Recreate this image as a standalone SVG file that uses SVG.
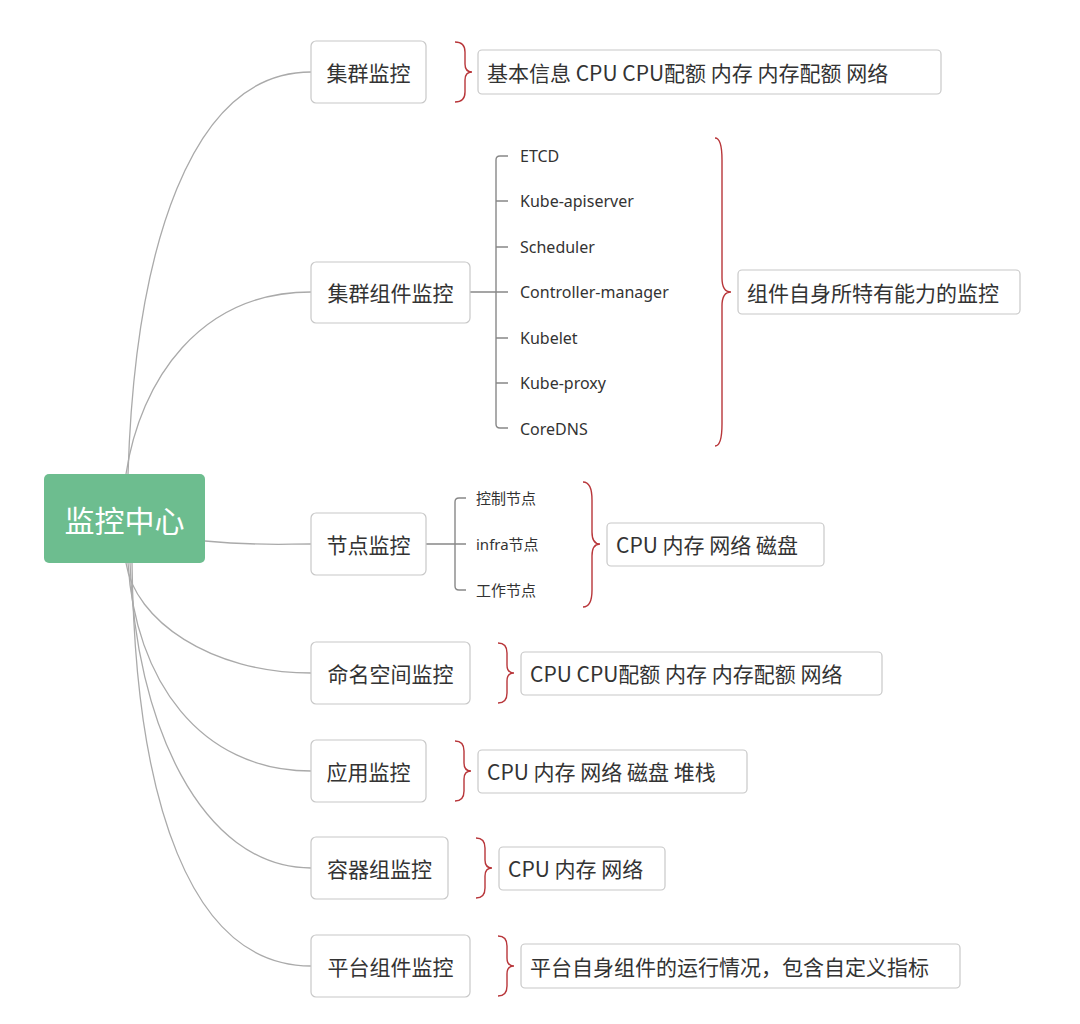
<svg xmlns="http://www.w3.org/2000/svg" width="1080" height="1024" viewBox="0 0 1080 1024">
<style>
.n{fill:#fff;stroke:#c8c8c8;stroke-width:1.2}
.t{font-family:"Noto Sans CJK SC","Noto Sans",sans-serif;font-size:21px;fill:#333;dominant-baseline:central}
.s{font-family:"Noto Sans","Noto Sans CJK SC",sans-serif;font-size:16px;fill:#333;dominant-baseline:central}
.c{fill:none;stroke:#aaa;stroke-width:1.3}
.b{fill:none;stroke:#b8363a;stroke-width:1.4}
.tr{fill:none;stroke:#888;stroke-width:1.4}
</style>
<rect width="1080" height="1024" fill="#fff"/>
<g id="connectors">
<path class="c" d="M128,474 C135,250 190,72 311,72"/>
<path class="c" d="M126,474 C140,380 200,292 311,292"/>
<path class="c" d="M205,541 C260,546 280,544 311,544"/>
<path class="c" d="M126,563 C135,620 210,673 311,673"/>
<path class="c" d="M128,563 C135,680 200,771 311,771"/>
<path class="c" d="M130,563 C135,720 200,868 311,868"/>
<path class="c" d="M132,563 C135,800 190,966 311,966"/>
<path class="tr" d="M470,292 H508 M508,156 H500 Q496,156 496,160 V424 Q496,428 500,428 H508 M496,201 H508 M496,247 H508 M496,338 H508 M496,383 H508"/>
<path class="tr" d="M426,544 H466 M466,498 H459 Q455,498 455,502 V586 Q455,590 459,590 H466"/>
<path class="b" d="M455,42 Q465,42 465,52 V64 Q465,72 472,72 Q465,72 465,80 V92 Q465,102 455,102"/>
<path class="b" d="M715,138 Q722,138 722,160 V278 Q722,292 731,292 Q722,292 722,306 V424 Q722,446 715,446"/>
<path class="b" d="M583,482 Q592,482 592,500 V532 Q592,544 600,544 Q592,544 592,556 V590 Q592,607 583,607"/>
<path class="b" d="M498,643 Q507,643 507,653 V665 Q507,673 514,673 Q507,673 507,681 V693 Q507,703 498,703"/>
<path class="b" d="M455,741 Q464,741 464,751 V763 Q464,771 471,771 Q464,771 464,779 V791 Q464,801 455,801"/>
<path class="b" d="M476,838 Q485,838 485,848 V860 Q485,868 492,868 Q485,868 485,876 V888 Q485,898 476,898"/>
<path class="b" d="M498,936 Q507,936 507,946 V958 Q507,966 514,966 Q507,966 507,974 V986 Q507,996 498,996"/>
</g>
<g id="center"><rect x="44" y="474" width="161" height="89" rx="5" fill="#6dbd8f"/><text x="124.5" y="519" text-anchor="middle" class="t" style="fill:#fff;font-size:30px">监控中心</text></g>
<g id="n1"><rect class="n" x="311" y="41" width="115" height="62" rx="5"/><text class="t" x="368.5" y="72" text-anchor="middle">集群监控</text></g>
<g id="d1"><rect class="n" x="478" y="50" width="463" height="44" rx="4"/><text class="t" x="487" y="72">基本信息 CPU CPU配额 内存 内存配额 网络</text></g>
<g id="n2"><rect class="n" x="311" y="262" width="159" height="61" rx="5"/><text class="t" x="390.5" y="292" text-anchor="middle">集群组件监控</text></g>
<g id="items2">
<text class="s" x="520" y="156">ETCD</text><text class="s" x="520" y="201">Kube-apiserver</text><text class="s" x="520" y="247">Scheduler</text><text class="s" x="520" y="292">Controller-manager</text><text class="s" x="520" y="338">Kubelet</text><text class="s" x="520" y="383">Kube-proxy</text><text class="s" x="520" y="429">CoreDNS</text></g>
<g id="d2"><rect class="n" x="738" y="270" width="282" height="44" rx="4"/><text class="t" x="747" y="292">组件自身所特有能力的监控</text></g>
<g id="n3"><rect class="n" x="311" y="513" width="115" height="62" rx="5"/><text class="t" x="368.5" y="544" text-anchor="middle">节点监控</text></g>
<g id="items3"><text class="s" x="476" y="498" style="font-size:15px">控制节点</text><text class="s" x="476" y="544" style="font-size:15px">infra节点</text><text class="s" x="476" y="590" style="font-size:15px">工作节点</text></g>
<g id="d3"><rect class="n" x="607" y="523" width="217" height="43" rx="4"/><text class="t" x="616" y="544">CPU 内存 网络 磁盘</text></g>
<g id="n4"><rect class="n" x="311" y="642" width="159" height="62" rx="5"/><text class="t" x="390.5" y="673" text-anchor="middle">命名空间监控</text></g>
<g id="d4"><rect class="n" x="521" y="652" width="361" height="43" rx="4"/><text class="t" x="530" y="673">CPU CPU配额 内存 内存配额 网络</text></g>
<g id="n5"><rect class="n" x="311" y="740" width="115" height="62" rx="5"/><text class="t" x="368.5" y="771" text-anchor="middle">应用监控</text></g>
<g id="d5"><rect class="n" x="478" y="750" width="269" height="43" rx="4"/><text class="t" x="487" y="771">CPU 内存 网络 磁盘 堆栈</text></g>
<g id="n6"><rect class="n" x="311" y="837" width="137" height="62" rx="5"/><text class="t" x="379.5" y="868" text-anchor="middle">容器组监控</text></g>
<g id="d6"><rect class="n" x="499" y="847" width="166" height="43" rx="4"/><text class="t" x="508" y="868">CPU 内存 网络</text></g>
<g id="n7"><rect class="n" x="311" y="935" width="159" height="62" rx="5"/><text class="t" x="390.5" y="966" text-anchor="middle">平台组件监控</text></g>
<g id="d7"><rect class="n" x="521" y="944" width="439" height="44" rx="4"/><text class="t" x="530" y="966">平台自身组件的运行情况，包含自定义指标</text></g>
</svg>
